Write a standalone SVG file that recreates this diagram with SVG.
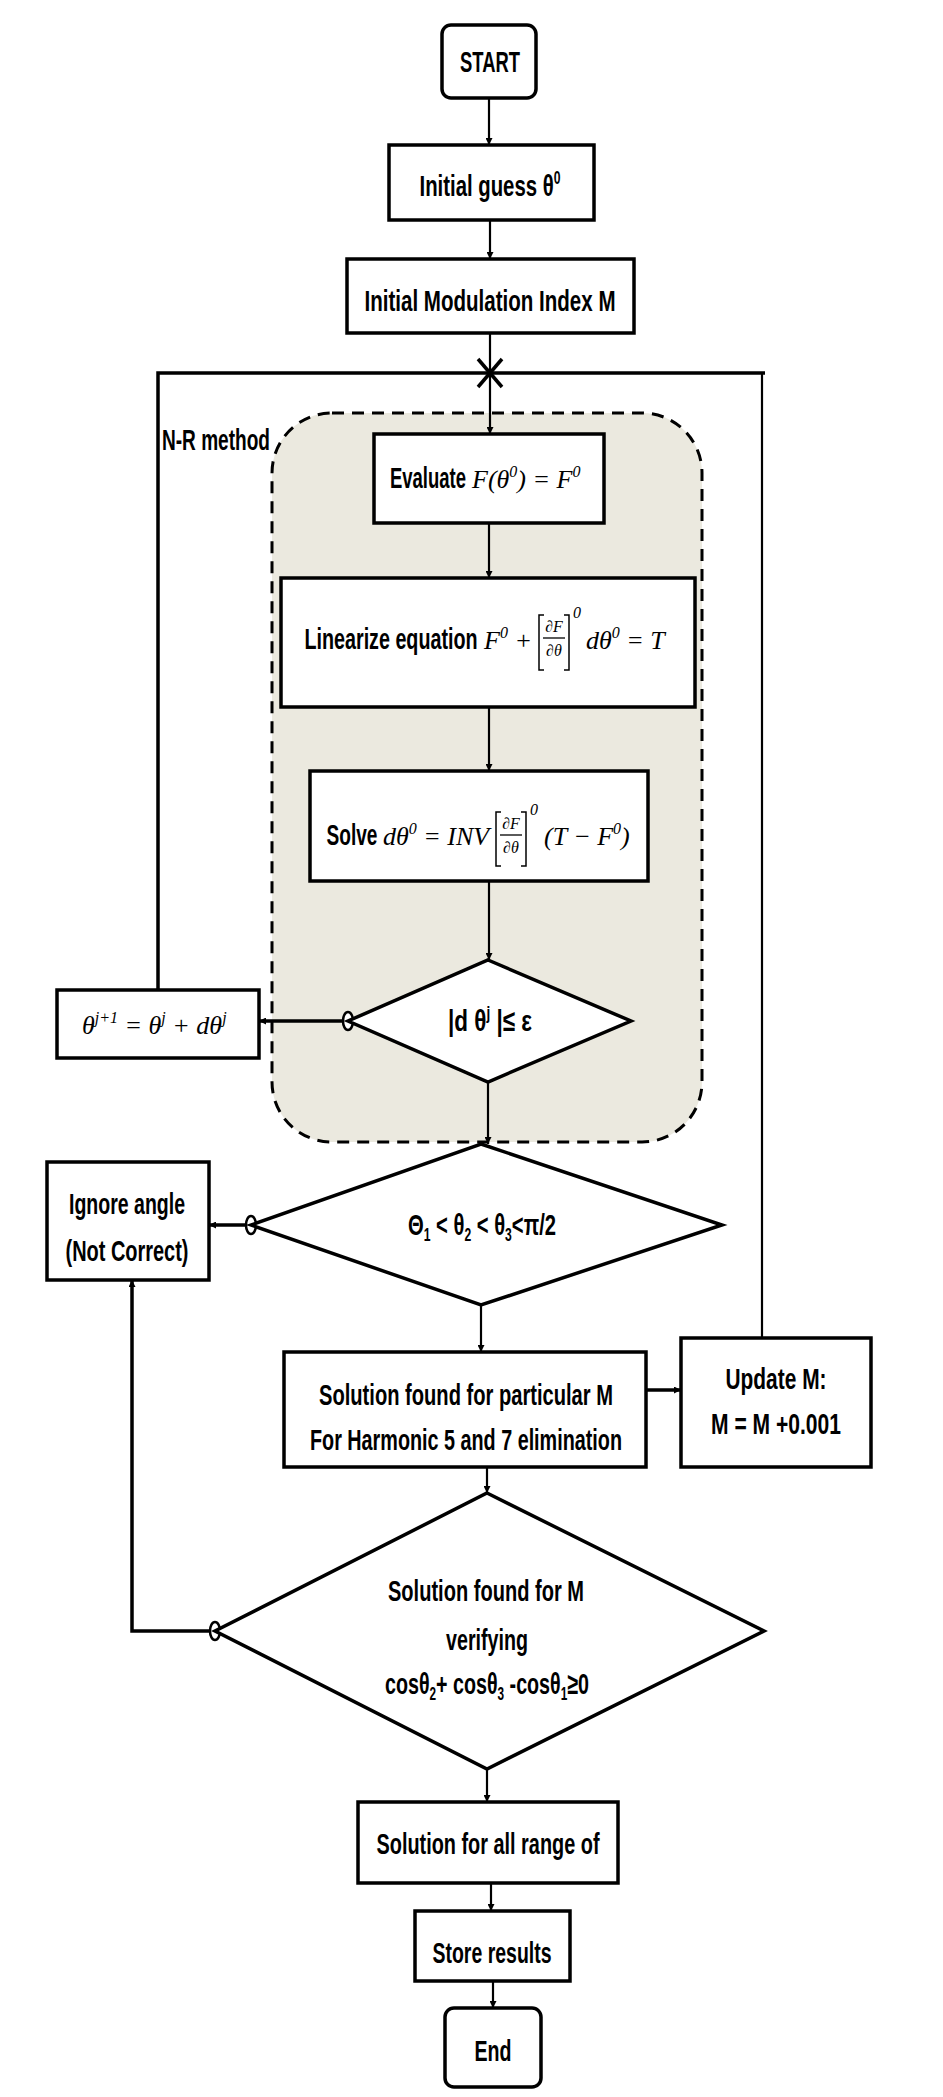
<svg xmlns="http://www.w3.org/2000/svg" width="943" height="2097" viewBox="0 0 943 2097">
<defs>
<marker id="ah" viewBox="0 0 10 10" refX="10" refY="5" markerWidth="7" markerHeight="7" orient="auto" markerUnits="userSpaceOnUse"><path d="M0,0 L10,5 L0,10 z" fill="#000"/></marker>
<style>
.b{fill:#fff;stroke:#000;stroke-width:3.5}
.t{font-family:"Liberation Sans Narrow","Liberation Sans",sans-serif;font-weight:bold;font-size:30px;fill:#000;text-anchor:middle}
.m{font-family:"Liberation Serif",serif;font-style:italic;font-size:26px;fill:#000}
.s{font-family:"Liberation Serif",serif;font-style:italic;font-size:16px;fill:#000}
.c{fill:none;stroke:#000;stroke-width:2.2}
.k{fill:none;stroke:#000;stroke-width:3.5}
.br{fill:none;stroke:#000;stroke-width:1.5}
</style>
</defs>
<rect x="272" y="413" width="430" height="729" rx="60" fill="#ebe9df" stroke="#000" stroke-width="3" stroke-dasharray="12,8"/>
<text class="t" x="216" y="450" textLength="108" lengthAdjust="spacingAndGlyphs" font-size="26">N-R method</text>
<g id="connectors">
<line class="c" x1="489" y1="98" x2="489" y2="145" marker-end="url(#ah)"/>
<line class="c" x1="490" y1="220" x2="490" y2="259" marker-end="url(#ah)"/>
<line class="c" x1="490" y1="333" x2="490" y2="434" marker-end="url(#ah)"/>
<polyline class="k" points="158,990 158,373 765,373"/>
<line class="c" x1="762" y1="373" x2="762" y2="1338"/>
<line class="k" x1="478" y1="359" x2="502" y2="387"/>
<line class="k" x1="478" y1="387" x2="502" y2="359"/>
<line class="c" x1="489" y1="523" x2="489" y2="578" marker-end="url(#ah)"/>
<line class="c" x1="489" y1="707" x2="489" y2="771" marker-end="url(#ah)"/>
<line class="c" x1="489" y1="881" x2="489" y2="960" marker-end="url(#ah)"/>
<line class="k" x1="343" y1="1021" x2="259" y2="1021" marker-end="url(#ah)"/>
<ellipse cx="348" cy="1021" rx="5" ry="9" fill="#fff" stroke="#000" stroke-width="2.5"/>
<line class="c" x1="488" y1="1082" x2="488" y2="1144" marker-end="url(#ah)"/>
<line class="k" x1="246" y1="1225" x2="209" y2="1225" marker-end="url(#ah)"/>
<ellipse cx="251" cy="1225" rx="5" ry="9" fill="#fff" stroke="#000" stroke-width="2.5"/>
<line class="c" x1="481" y1="1305" x2="481" y2="1352" marker-end="url(#ah)"/>
<line class="k" x1="646" y1="1390" x2="681" y2="1390" marker-end="url(#ah)"/>
<line class="c" x1="487" y1="1467" x2="487" y2="1493" marker-end="url(#ah)"/>
<polyline class="k" points="210,1631 132,1631 132,1280" marker-end="url(#ah)"/>
<ellipse cx="215" cy="1631" rx="5" ry="9" fill="#fff" stroke="#000" stroke-width="2.5"/>
<line class="c" x1="487" y1="1769" x2="487" y2="1802" marker-end="url(#ah)"/>
<line class="c" x1="491" y1="1883" x2="491" y2="1911" marker-end="url(#ah)"/>
<line class="c" x1="493" y1="1981" x2="493" y2="2008" marker-end="url(#ah)"/>
</g>
<g id="start"><rect class="b" x="442" y="25" width="94" height="73" rx="9"/><text class="t" x="490" y="72" textLength="60" lengthAdjust="spacingAndGlyphs">START</text></g>
<g id="guess"><rect class="b" x="389" y="145" width="205" height="75"/><text class="t" x="490" y="196" textLength="141" lengthAdjust="spacingAndGlyphs">Initial guess θ<tspan font-size="18" dy="-12">0</tspan></text></g>
<g id="modidx"><rect class="b" x="347" y="259" width="287" height="74"/><text class="t" x="490" y="311" textLength="251" lengthAdjust="spacingAndGlyphs">Initial Modulation Index M</text></g>
<g id="evaluate"><rect class="b" x="374" y="434" width="230" height="89"/>
<text class="t" x="428" y="488" textLength="76" lengthAdjust="spacingAndGlyphs">Evaluate</text>
<text class="m" x="472" y="488">F(θ<tspan font-size="16" dy="-11">0</tspan><tspan dy="11">) = F</tspan><tspan font-size="16" dy="-11">0</tspan></text></g>
<g id="linearize"><rect class="b" x="281" y="578" width="414" height="129"/>
<text class="t" x="391" y="649" textLength="173" lengthAdjust="spacingAndGlyphs">Linearize equation</text>
<text class="m" x="484" y="649">F<tspan font-size="16" dy="-11">0</tspan><tspan dy="11"> +</tspan></text>
<polyline class="br" points="544,615 539,615 539,670 544,670"/>
<polyline class="br" points="564,615 569,615 569,670 564,670"/>
<text class="s" x="554" y="632" text-anchor="middle">∂F</text>
<line x1="543" y1="638" x2="565" y2="638" stroke="#000" stroke-width="1.3"/>
<text class="s" x="554" y="656" text-anchor="middle">∂θ</text>
<text class="s" x="573" y="618">0</text>
<text class="m" x="586" y="649">dθ<tspan font-size="16" dy="-11">0</tspan><tspan dy="11"> = T</tspan></text></g>
<g id="solve"><rect class="b" x="310" y="771" width="338" height="110"/>
<text class="t" x="352" y="845" textLength="51" lengthAdjust="spacingAndGlyphs">Solve</text>
<text class="m" x="383" y="845">dθ<tspan font-size="16" dy="-11">0</tspan><tspan dy="11"> = INV</tspan></text>
<polyline class="br" points="501,812 496,812 496,866 501,866"/>
<polyline class="br" points="521,812 526,812 526,866 521,866"/>
<text class="s" x="511" y="829" text-anchor="middle">∂F</text>
<line x1="500" y1="835" x2="522" y2="835" stroke="#000" stroke-width="1.3"/>
<text class="s" x="511" y="853" text-anchor="middle">∂θ</text>
<text class="s" x="530" y="815">0</text>
<text class="m" x="544" y="845">(T − F<tspan font-size="16" dy="-11">0</tspan><tspan dy="11">)</tspan></text></g>
<g id="check1"><polygon class="b" points="488,960 631,1021 488,1082 348,1021"/><text class="t" x="490" y="1031" textLength="84" lengthAdjust="spacingAndGlyphs">|d θ<tspan font-size="18" dy="-12">j</tspan><tspan dy="12"> |≤ ε</tspan></text></g>
<g id="update"><rect class="b" x="57" y="990" width="202" height="68"/>
<text class="m" x="82" y="1034">θ<tspan font-size="16" dy="-11">j+1</tspan><tspan dy="11"> = θ</tspan><tspan font-size="16" dy="-11">j</tspan><tspan dy="11"> + dθ</tspan><tspan font-size="16" dy="-11">j</tspan></text></g>
<g id="check2"><polygon class="b" points="481,1144 722,1225 481,1305 251,1225"/><text class="t" x="482" y="1235" textLength="148" lengthAdjust="spacingAndGlyphs">Θ<tspan font-size="18" dy="6">1</tspan><tspan dy="-6"> &lt; θ</tspan><tspan font-size="18" dy="6">2</tspan><tspan dy="-6"> &lt; θ</tspan><tspan font-size="18" dy="6">3</tspan><tspan dy="-6">&lt;π/2</tspan></text></g>
<g id="ignore"><rect class="b" x="47" y="1162" width="162" height="118"/>
<text class="t" x="127" y="1214" textLength="116" lengthAdjust="spacingAndGlyphs">Ignore angle</text>
<text class="t" x="127" y="1261" textLength="123" lengthAdjust="spacingAndGlyphs">(Not Correct)</text></g>
<g id="found"><rect class="b" x="284" y="1352" width="362" height="115"/>
<text class="t" x="466" y="1405" textLength="294" lengthAdjust="spacingAndGlyphs">Solution found for particular M</text>
<text class="t" x="466" y="1450" textLength="312" lengthAdjust="spacingAndGlyphs">For Harmonic 5 and 7 elimination</text></g>
<g id="updateM"><rect class="b" x="681" y="1338" width="190" height="129"/>
<text class="t" x="776" y="1389" textLength="101" lengthAdjust="spacingAndGlyphs">Update M:</text>
<text class="t" x="776" y="1434" textLength="130" lengthAdjust="spacingAndGlyphs">M = M +0.001</text></g>
<g id="check3"><polygon class="b" points="487,1493 764,1631 487,1769 215,1631"/>
<text class="t" x="486" y="1601" textLength="196" lengthAdjust="spacingAndGlyphs">Solution found for M</text>
<text class="t" x="487" y="1650" textLength="82" lengthAdjust="spacingAndGlyphs">verifying</text>
<text class="t" x="487" y="1694" textLength="204" lengthAdjust="spacingAndGlyphs">cosθ<tspan font-size="18" dy="6">2</tspan><tspan dy="-6">+ cosθ</tspan><tspan font-size="18" dy="6">3</tspan><tspan dy="-6"> -cosθ</tspan><tspan font-size="18" dy="6">1</tspan><tspan dy="-6">≥0</tspan></text></g>
<g id="allrange"><rect class="b" x="358" y="1802" width="260" height="81"/><text class="t" x="488" y="1854" textLength="223" lengthAdjust="spacingAndGlyphs">Solution for all range of</text></g>
<g id="store"><rect class="b" x="415" y="1911" width="155" height="70"/><text class="t" x="492" y="1963" textLength="119" lengthAdjust="spacingAndGlyphs">Store results</text></g>
<g id="end"><rect class="b" x="445" y="2008" width="96" height="79" rx="9"/><text class="t" x="493" y="2061" textLength="37" lengthAdjust="spacingAndGlyphs">End</text></g>
</svg>
